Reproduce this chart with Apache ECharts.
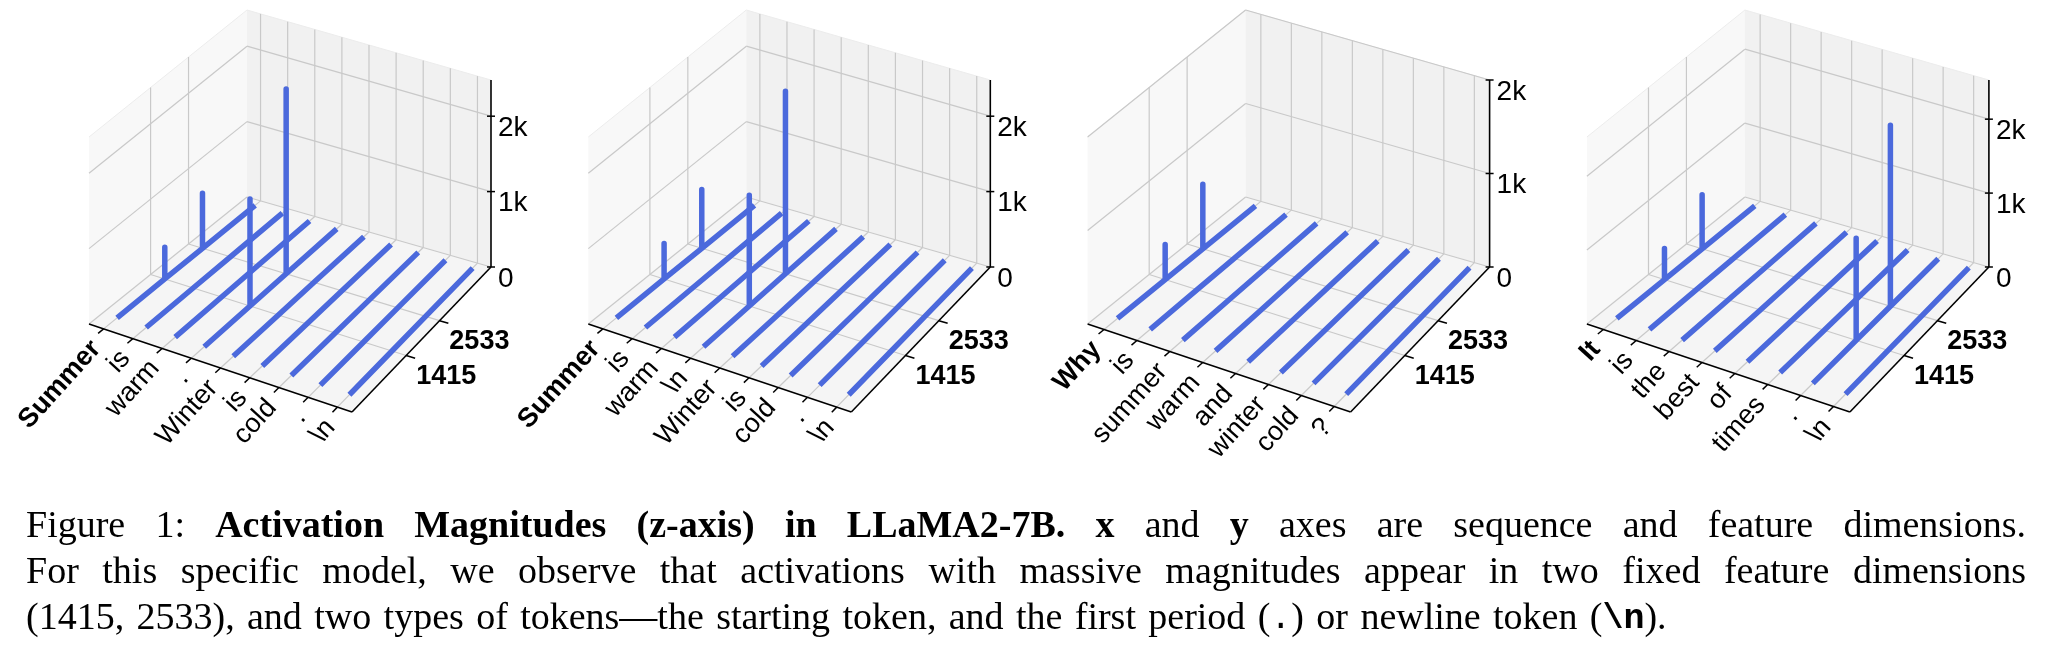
<!DOCTYPE html>
<html>
<head>
<meta charset="utf-8">
<title>Activation Magnitudes in LLaMA2-7B</title>
<script src="https://cdn.jsdelivr.net/npm/echarts@6/dist/echarts.min.js"></script>
<style>body{margin:0;background:#fff}</style>
</head>
<body>
<div id="main" style="width:2052px;height:666px;"></div>
<script>
// token labels of each panel (x axis)
const tokens = [
  ['Summer', 'is', 'warm', '.', 'Winter', 'is', 'cold', '.', '\\n'],
  ['Summer', 'is', 'warm', '\\n', 'Winter', 'is', 'cold', '.', '\\n'],
  ['Why', 'is', 'summer', 'warm', 'and', 'winter', 'cold', '?'],
  ['It', 'is', 'the', 'best', 'of', 'times', '.', '\\n']
];
// feature dims with massive activations (y axis ticks)
const featureTicks = [1415, 2533];
const featureMax = 4096;
// tokens carrying the spikes, and spike heights at dim 1415 / 2533
const spikeTokens = [[0, 3], [0, 3], [0], [0, 6]];
const spike1415 = [[420, 1420], [470, 1470], [375], [420, 1380]];
const spike2533 = [[730, 2450], [780, 2420], [690], [730, 2450]];
// z axis
const zMax = [2480, 2480, 2000, 2530];
const zTicks = [0, 1000, 2000];
const zTickLabels = ['0', '1k', '2k'];

const BLUE = '#4b69dc';
const GRID = '#c9c9c9';
const FONT = 'Liberation Sans, Arial, sans-serif';

// box corners of the first panel (px), later panels shifted right
const FL = [89, 324], FR = [352, 412], BR = [491, 267], BL = [247, 197];
const BOX_H = 187, PANEL_DX = 499.3;
const F_MIN = -400, F_MAX = 4256;

function panelRender(p) {
  return function (params, api) {
    const n = tokens[p].length;
    const dx = p * PANEL_DX;
    function P(u, v, z) {
      const x = (1 - u) * (1 - v) * FL[0] + u * (1 - v) * FR[0] + u * v * BR[0] + (1 - u) * v * BL[0] + dx;
      const y = (1 - u) * (1 - v) * FL[1] + u * (1 - v) * FR[1] + u * v * BR[1] + (1 - u) * v * BL[1]
        - z / zMax[p] * BOX_H;
      return api.coord([x, y]);
    }
    const tu = i => (i + 0.5) / n;
    const fv = f => (f - F_MIN) / (F_MAX - F_MIN);
    const zt = zMax[p];
    const ch = [];
    const line = (a, b, stroke, w) => ch.push({type: 'line', shape: {x1: a[0], y1: a[1], x2: b[0], y2: b[1]},
      style: {stroke: stroke, lineWidth: w}});
    const poly = (pts, fill) => ch.push({type: 'polygon', shape: {points: pts}, style: {fill: fill}});

    // panes
    poly([P(0, 0, 0), P(0, 1, 0), P(0, 1, zt), P(0, 0, zt)], '#f8f8f8');
    poly([P(0, 1, 0), P(1, 1, 0), P(1, 1, zt), P(0, 1, zt)], '#f1f1f1');
    poly([P(0, 0, 0), P(1, 0, 0), P(1, 1, 0), P(0, 1, 0)], '#f5f5f5');
    line(P(0, 0, zt), P(0, 1, zt), '#ececec', 1);
    line(P(0, 1, zt), P(1, 1, zt), '#ececec', 1);
    // grid
    for (let i = 0; i < n; i++) {
      line(P(tu(i), 0, 0), P(tu(i), 1, 0), GRID, 1.2);
      line(P(tu(i), 1, 0), P(tu(i), 1, zt), GRID, 1.2);
    }
    featureTicks.forEach(f => {
      line(P(0, fv(f), 0), P(1, fv(f), 0), GRID, 1.2);
      line(P(0, fv(f), 0), P(0, fv(f), zt), GRID, 1.2);
    });
    zTicks.forEach(z => {
      line(P(0, 0, z), P(0, 1, z), GRID, 1.2);
      line(P(0, 1, z), P(1, 1, z), GRID, 1.2);
    });

    // data lines
    for (let i = 0; i < n; i++) {
      const k = spikeTokens[p].indexOf(i);
      const v1 = k >= 0 ? spike1415[p][k] : 0;
      const v2 = k >= 0 ? spike2533[p][k] : 0;
      const pts = [[0, 0], [1415, 0], [1415, v1], [1415, 0], [2533, 0], [2533, v2], [2533, 0], [featureMax, 0]]
        .map(d => P(tu(i), fv(d[0]), d[1]));
      ch.push({type: 'polyline', shape: {points: pts},
        style: {stroke: BLUE, lineWidth: 5.5, fill: null, lineJoin: 'round', lineCap: 'butt'}});
    }

    // axes
    line(P(0, 0, 0), P(1, 0, 0), '#000', 1.6);
    line(P(1, 0, 0), P(1, 1, 0), '#000', 1.6);
    line(P(1, 1, 0), P(1, 1, zt), '#000', 1.6);
    for (let i = 0; i < n; i++) {
      const a = P(tu(i), 0, 0), b = P(tu(i), -0.035, 0);
      line(a, b, '#000', 1.5);
      ch.push({type: 'text', x: b[0] - 2, y: b[1] + 11, rotation: 48 * Math.PI / 180,
        style: {text: tokens[p][i], font: (i === 0 ? 'bold ' : '') + '27px ' + FONT, fill: '#000',
          align: 'right', verticalAlign: 'middle'}});
    }
    featureTicks.forEach(f => {
      const a = P(1, fv(f), 0), b = P(1.035, fv(f), 0);
      line(a, b, '#000', 1.5);
      ch.push({type: 'text', x: b[0] + 1, y: b[1] + 18,
        style: {text: String(f), font: 'bold 27px ' + FONT, fill: '#000', align: 'left', verticalAlign: 'middle'}});
    });
    zTicks.forEach((z, j) => {
      const a = P(1, 1, z);
      line([a[0] - 4, a[1]], [a[0] + 4, a[1]], '#000', 1.5);
      ch.push({type: 'text', x: a[0] + 7, y: a[1] + 12,
        style: {text: zTickLabels[j], font: '28px ' + FONT, fill: '#000', align: 'left', verticalAlign: 'middle'}});
    });
    return {type: 'group', children: ch};
  };
}

// caption
const captionLines = [
  [['Figure 1:', 'n'], ['Activation Magnitudes (z-axis) in LLaMA2-7B.', 'b'], ['x', 'b'], ['and', 'n'], ['y', 'b'],
    ['axes are sequence and feature dimensions.', 'n']],
  [['For this specific model, we observe that activations with massive magnitudes appear in two fixed feature dimensions', 'n']],
  [['(1415, 2533), and two types of tokens\u2014the starting token, and the first period', 'n'],
    [['(', 'n'], ['.', 'm'], [')', 'n']], ['or newline token', 'n'], [['(', 'n'], ['\\n', 'mb'], [').', 'n']]]
];
const capStyles = {
  n: 'normal 38px Liberation Serif, serif',
  b: 'bold 38px Liberation Serif, serif',
  m: 'normal 35px Liberation Mono, monospace',
  mb: 'bold 35px Liberation Mono, monospace'
};
const capY = [529, 575, 621];
const capJustify = [true, true, false];

function buildCaption() {
  const ctx = document.createElement('canvas').getContext('2d');
  const width = (t, s) => { ctx.font = capStyles[s]; return ctx.measureText(t).width; };
  const out = [];
  captionLines.forEach((segs, li) => {
    const words = [];
    segs.forEach(seg => {
      if (Array.isArray(seg[0])) words.push(seg);
      else seg[0].split(' ').forEach(w => words.push([[w, seg[1]]]));
    });
    const ws = words.map(w => w.reduce((s, pc) => s + width(pc[0], pc[1]), 0));
    const total = ws.reduce((a, b) => a + b, 0);
    const gap = capJustify[li] ? (2026 - 26 - total) / (words.length - 1) : width(' ', 'n') * 1.3;
    let x = 26;
    words.forEach((w, k) => {
      const rich = {};
      let txt = '';
      w.forEach(pc => { txt += '{' + pc[1] + '|' + pc[0] + '}'; rich[pc[1]] = {font: capStyles[pc[1]], fill: '#000'}; });
      out.push({type: 'text', left: x, top: capY[li] - 21, style: {text: txt, rich: rich, fill: '#000'}});
      x += ws[k] + gap;
    });
  });
  return out;
}

const myChart = echarts.init(document.getElementById('main'));
myChart.setOption({
  animation: false,
  grid: {left: 0, right: 0, top: 0, bottom: 0},
  xAxis: {type: 'value', min: 0, max: 2052, show: false},
  yAxis: {type: 'value', min: 0, max: 666, inverse: true, show: false},
  graphic: buildCaption(),
  series: tokens.map((t, p) => ({
    type: 'custom', clip: false, data: [[0, 0]],
    renderItem: panelRender(p)
  }))
});
</script>
</body>
</html>
